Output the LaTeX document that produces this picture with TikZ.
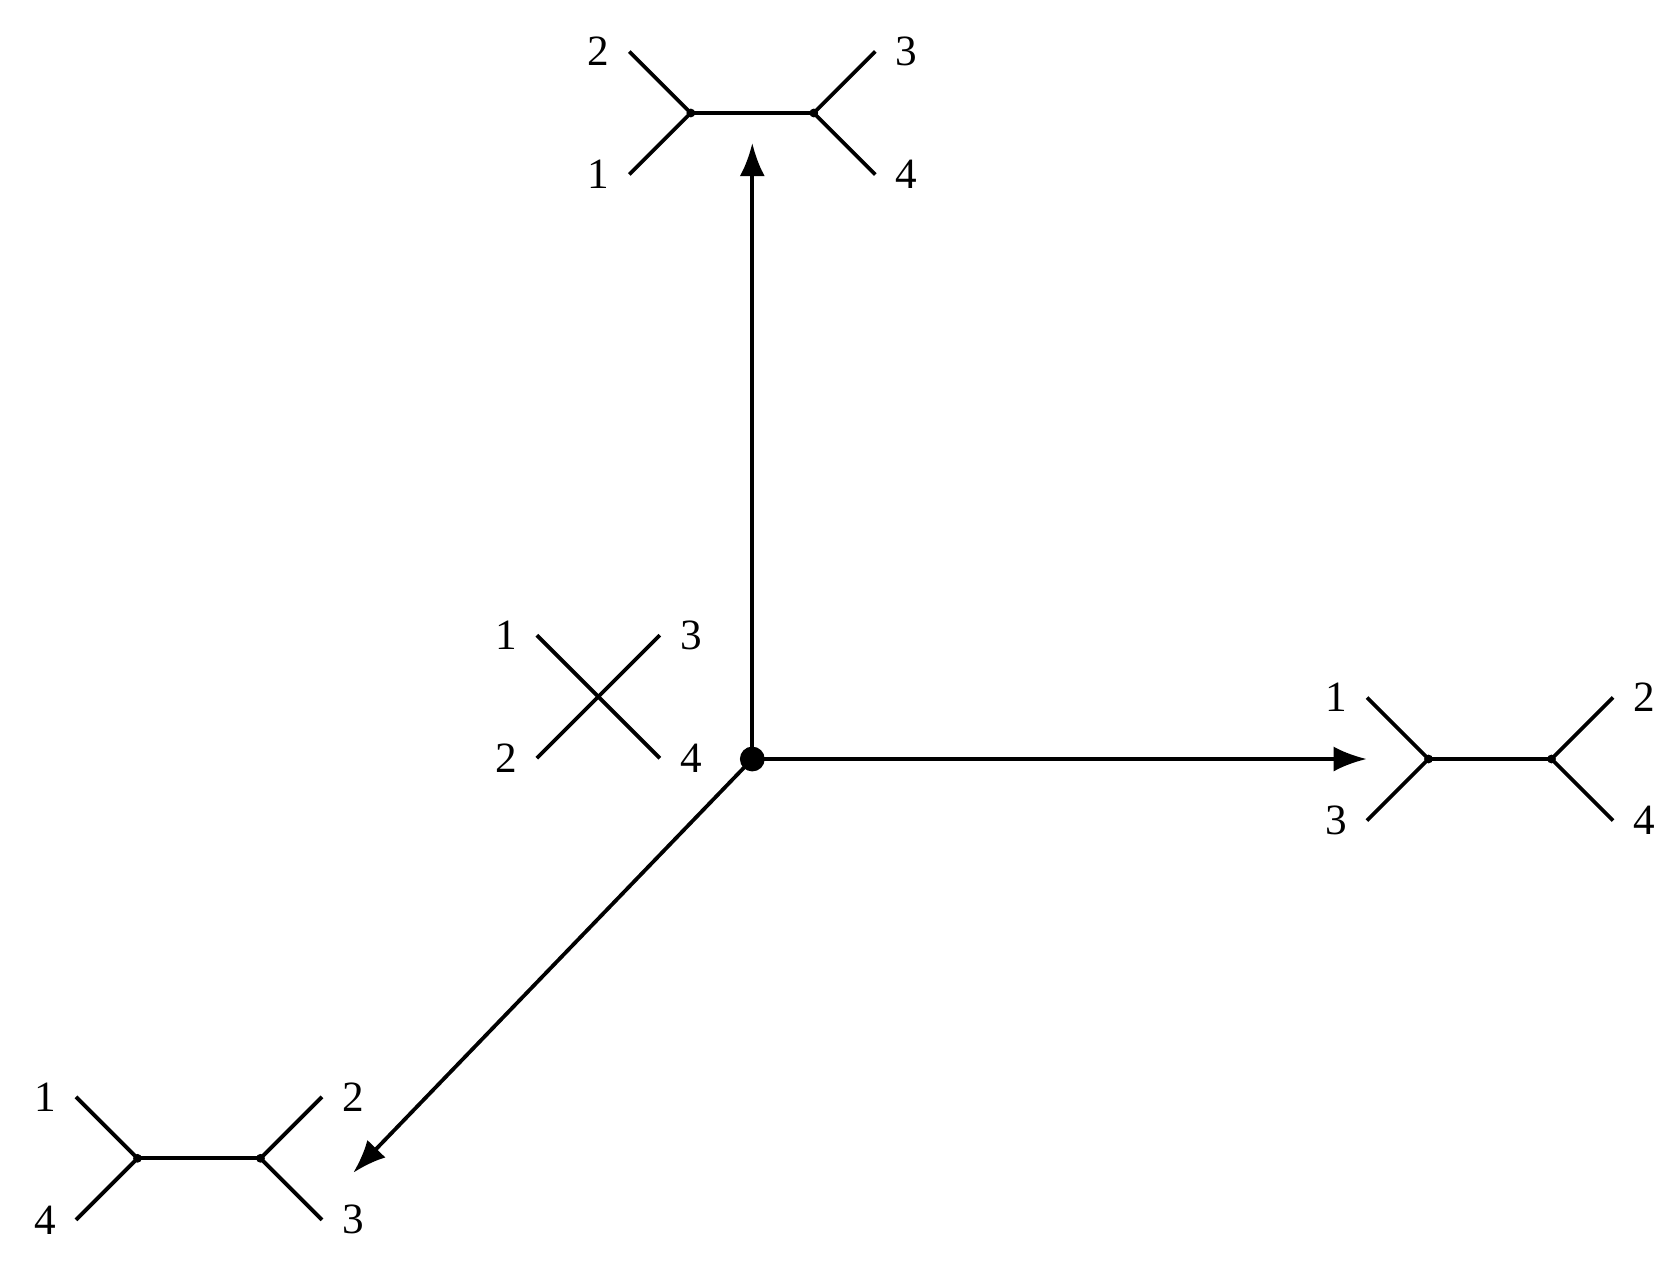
\documentclass[tikz,border=0pt]{standalone}
\usepackage{fontspec}
\setmainfont{Liberation Serif}
\usetikzlibrary{arrows.meta}
\newcommand{\htree}[6]{%
    \begin{scope}[shift={#2}]
        \coordinate (#1a) at (-\h, 0);
        \coordinate (#1b) at (\h, 0);
        \coordinate (#1ul) at (-2*\h, \h);
        \coordinate (#1ll) at (-2*\h, -\h);
        \coordinate (#1ur) at (2*\h, \h);
        \coordinate (#1lr) at (2*\h, -\h);
        \draw (#1ul) -- (#1a) -- (#1ll);
        \draw (#1ur) -- (#1b) -- (#1lr);
        \draw (#1a) -- (#1b);
        \fill (#1a) circle (1.1pt);
        \fill (#1b) circle (1.1pt);
        \node (#1n1) at (-2*\h-\lo, \h) {#3};
        \node (#1n2) at (-2*\h-\lo, -\h) {#4};
        \node (#1n3) at (2*\h+\lo, \h) {#5};
        \node (#1n4) at (2*\h+\lo, -\h) {#6};
    \end{scope}}
\begin{document}
\begin{tikzpicture}[x=25pt, y=25pt, line width=0.95pt,
        every node/.style={font=\fontsize{10.8}{13}\selectfont},
        arr/.style={-{Latex[length=8.3pt, width=6.3pt]}}]
    \pgfmathsetmacro{\h}{0.615}
    \pgfmathsetmacro{\lo}{0.31}
    \useasboundingbox (-7.523, -5.18) rectangle (9.257, 7.59);
    \htree{t}{(0, 6.46)}{2}{1}{3}{4}
    \htree{r}{(7.377, 0)}{1}{3}{2}{4}
    \htree{b}{(-5.533, -3.993)}{1}{4}{2}{3}
    \begin{scope}[shift={(-1.54, 0.623)}]
        \coordinate (xul) at (-\h, \h);
        \coordinate (xll) at (-\h, -\h);
        \coordinate (xur) at (\h, \h);
        \coordinate (xlr) at (\h, -\h);
        \draw (xul) -- (xlr);
        \draw (xll) -- (xur);
        \node (xn1) at (-\h-\lo, \h) {1};
        \node (xn2) at (-\h-\lo, -\h) {2};
        \node (xn3) at (\h+\lo, \h) {3};
        \node (xn4) at (\h+\lo, -\h) {4};
    \end{scope}
    \coordinate (o) at (0, 0);
    \coordinate (ttip) at (0, 6.16);
    \coordinate (rtip) at (6.144, 0);
    \coordinate (btip) at (-3.99, -4.137);
    \draw [arr] (o) -- (ttip);
    \draw [arr] (o) -- (rtip);
    \draw [arr] (o) -- (btip);
    \fill (o) circle (3.1pt);
\end{tikzpicture}
\end{document}
